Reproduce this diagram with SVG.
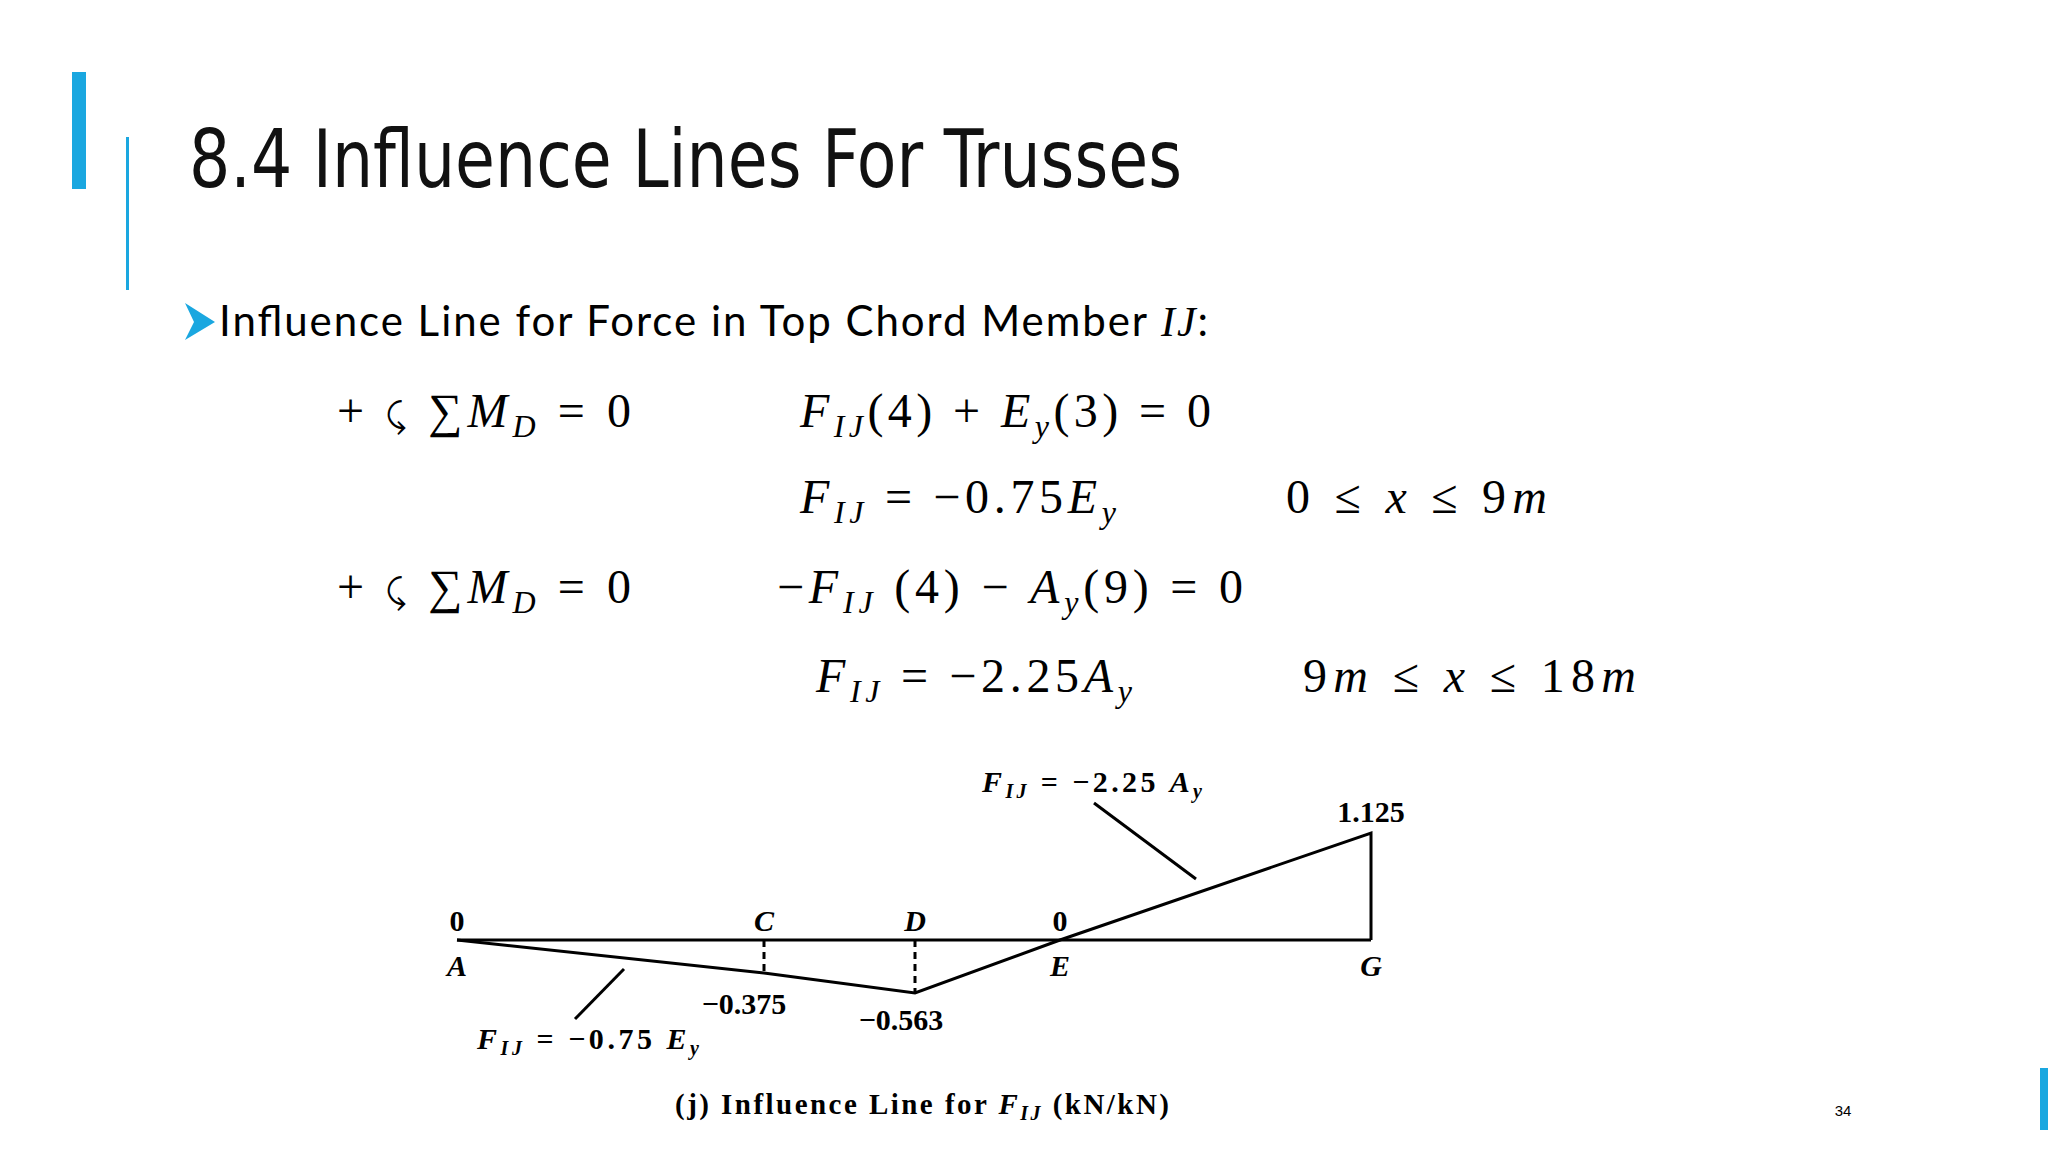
<svg xmlns="http://www.w3.org/2000/svg" width="2048" height="1152" viewBox="0 0 2048 1152">
<style>
.eq{font-family:"Liberation Serif",serif;font-style:italic;font-size:48px;fill:#000}
.up{font-style:normal}
.d{font-family:"Liberation Serif",serif;font-weight:bold;font-size:30px;fill:#000}
.ln{stroke:#000;stroke-width:3;fill:none}
</style>
<rect width="2048" height="1152" fill="#fff"/>
<rect x="72" y="72" width="14" height="117" fill="#1aa7e0"/>
<rect x="126" y="137" width="3" height="153" fill="#1aa7e0"/>
<rect x="2040" y="1068" width="8" height="62" fill="#1aa7e0"/>
<g id="title"><text x="189" y="187" font-family="DejaVu Sans Condensed,DejaVu Sans,sans-serif" font-size="80" textLength="993" lengthAdjust="spacingAndGlyphs" fill="#111">8.4 Influence Lines For Trusses</text></g>
<g id="bullet">
<polygon points="185,303 215,322 185,340 194,322" fill="#1aa7e0"/>
<text x="219" y="336" font-family="Lato,sans-serif" font-size="42" fill="#000" textLength="989">Influence Line for Force in Top Chord Member <tspan font-family="Liberation Serif,serif" font-style="italic">IJ</tspan>:</text>
</g>
<g id="equations">
<text class="eq" x="337" y="427" textLength="294"><tspan class="up">+ </tspan><tspan class="up" font-family="DejaVu Sans,sans-serif" font-size="34">⤹</tspan><tspan class="up"> ∑</tspan>M<tspan font-size="32" dy="10">D</tspan><tspan class="up" dy="-10"> = 0</tspan></text>
<text class="eq" x="800" y="427" textLength="411">F<tspan font-size="32" dy="10">IJ</tspan><tspan class="up" dy="-10">(4) + </tspan>E<tspan font-size="32" dy="10">y</tspan><tspan class="up" dy="-10">(3) = 0</tspan></text>
<text class="eq" x="800" y="513" textLength="316">F<tspan font-size="32" dy="10">IJ</tspan><tspan class="up" dy="-10">  = −0.75</tspan>E<tspan font-size="32" dy="10">y</tspan></text>
<text class="eq" x="1286" y="513" textLength="261"><tspan class="up">0 ≤ </tspan>x<tspan class="up"> ≤ 9</tspan>m</text>
<text class="eq" x="337" y="603" textLength="294"><tspan class="up">+ </tspan><tspan class="up" font-family="DejaVu Sans,sans-serif" font-size="34">⤹</tspan><tspan class="up"> ∑</tspan>M<tspan font-size="32" dy="10">D</tspan><tspan class="up" dy="-10"> = 0</tspan></text>
<text class="eq" x="777" y="603" textLength="466"><tspan class="up">−</tspan>F<tspan font-size="32" dy="10">IJ</tspan><tspan class="up" dy="-10"> (4) − </tspan>A<tspan font-size="32" dy="10">y</tspan><tspan class="up" dy="-10">(9) = 0</tspan></text>
<text class="eq" x="816" y="692" textLength="316">F<tspan font-size="32" dy="10">IJ</tspan><tspan class="up" dy="-10">  = −2.25</tspan>A<tspan font-size="32" dy="10">y</tspan></text>
<text class="eq" x="1303" y="692" textLength="333"><tspan class="up">9</tspan>m<tspan class="up"> ≤ </tspan>x<tspan class="up"> ≤ 18</tspan>m</text>
</g>
<g id="connectors">
<line class="ln" x1="457" y1="940" x2="1371" y2="940"/>
<polyline class="ln" points="457,940 764,973 915,993 1060,940 1371,833 1371,940"/>
<line class="ln" x1="764" y1="940" x2="764" y2="973" stroke-dasharray="7,5"/>
<line class="ln" x1="915" y1="940" x2="915" y2="993" stroke-dasharray="7,5"/>
<line class="ln" stroke-width="2" x1="575" y1="1019" x2="624" y2="969"/>
<line class="ln" stroke-width="2" x1="1094" y1="803" x2="1196" y2="879"/>
</g>
<g id="labels" class="d" text-anchor="middle">
<text x="457" y="931">0</text><text x="764" y="931" font-style="italic">C</text><text x="915" y="931" font-style="italic">D</text><text x="1060" y="931">0</text>
<text x="457" y="976" font-style="italic">A</text><text x="1060" y="976" font-style="italic">E</text><text x="1371" y="976" font-style="italic">G</text>
<text x="1371" y="822">1.125</text>
<text x="744" y="1014">−0.375</text><text x="901" y="1030">−0.563</text>
<text x="477" y="1049" text-anchor="start" textLength="222"><tspan font-style="italic">F</tspan><tspan font-style="italic" font-size="20" dy="6">IJ</tspan><tspan dy="-6"> = −0.75 </tspan><tspan font-style="italic">E</tspan><tspan font-style="italic" font-size="20" dy="6">y</tspan></text>
<text x="982" y="792" text-anchor="start" textLength="220"><tspan font-style="italic">F</tspan><tspan font-style="italic" font-size="20" dy="6">IJ</tspan><tspan dy="-6"> = −2.25 </tspan><tspan font-style="italic">A</tspan><tspan font-style="italic" font-size="20" dy="6">y</tspan></text>
<text x="675" y="1114" font-size="29" text-anchor="start" textLength="494">(j) Influence Line for <tspan font-style="italic">F</tspan><tspan font-style="italic" font-size="20" dy="6">IJ</tspan><tspan dy="-6"> (kN/kN)</tspan></text>
</g>
<text x="1843" y="1116" font-family="Liberation Sans,sans-serif" font-size="15" text-anchor="middle">34</text>
</svg>
